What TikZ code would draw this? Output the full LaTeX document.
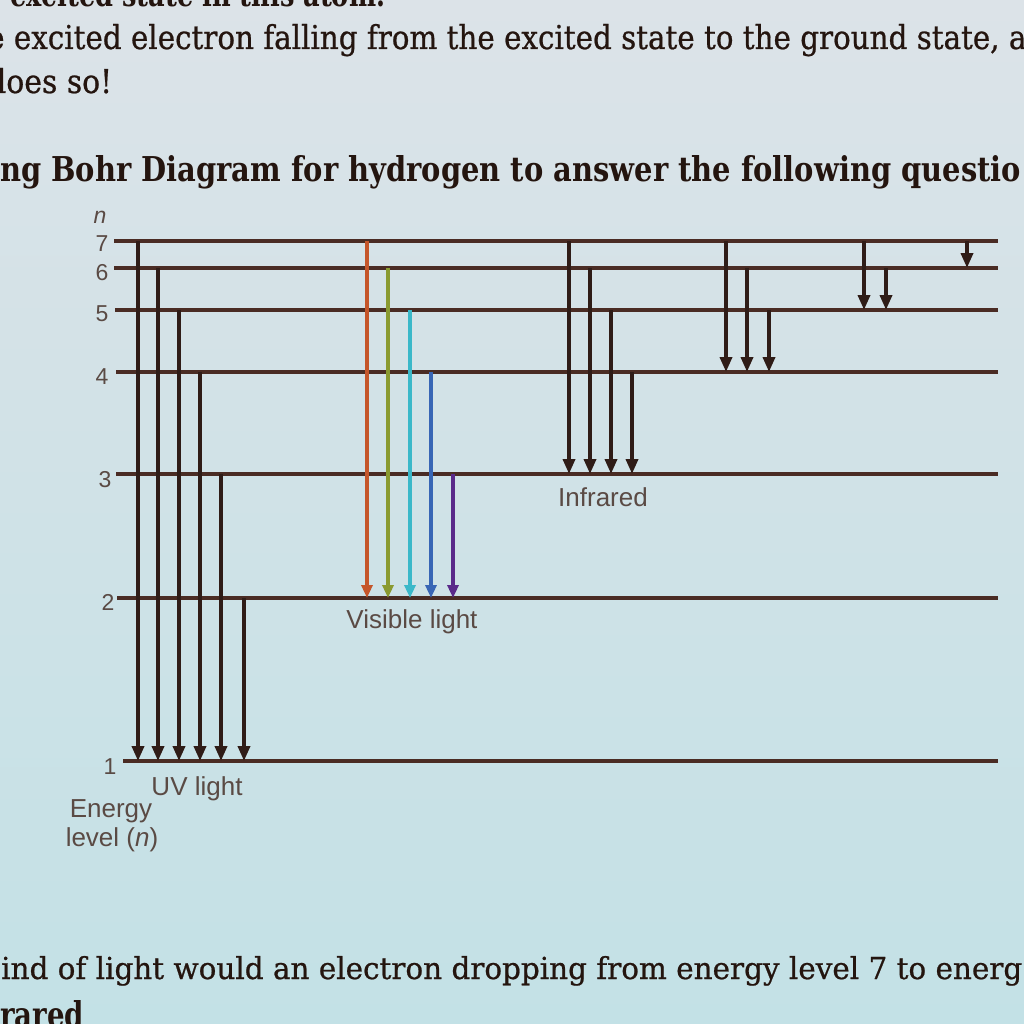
\documentclass[tikz,border=0pt]{standalone}
\usepackage{fontspec}
\usepackage{graphicx}
\setmainfont{DejaVu Serif}
\newfontfamily\medserif{DejaVu Serif}[FakeBold=0.7]
\newfontfamily\labelfont{Liberation Sans}
\usetikzlibrary{arrows.meta}
\definecolor{bgtop}{HTML}{DCE3E8}
\definecolor{bgmid}{HTML}{D1E5E9}
\definecolor{bgbot}{HTML}{C3E1E6}
\definecolor{txt}{HTML}{24150F}
\definecolor{levelc}{HTML}{4A2C24}
\definecolor{arrowc}{HTML}{2F1C17}
\definecolor{labc}{HTML}{5A4A44}
\definecolor{vred}{HTML}{C5562A}
\definecolor{vgreen}{HTML}{8A9A30}
\definecolor{vcyan}{HTML}{3AB8C9}
\definecolor{vblue}{HTML}{3866B5}
\definecolor{vpurple}{HTML}{5A2A8A}
\tikzset{
  level/.style={draw=levelc, line width=3.3pt},
  arr/.style={draw=arrowc, line width=3.6pt, -{Triangle[length=15pt,width=12pt]}},
  varr/.style={line width=3.2pt, -{Triangle[length=13pt,width=11pt]}},
  lab/.style={text=labc, font=\labelfont\fontsize{26}{28}\selectfont, inner sep=0pt},
  ticklab/.style={text=labc, font=\labelfont\fontsize{23}{25}\selectfont, inner sep=0pt},
  prose/.style={text=txt, anchor=base west, inner sep=0pt}
}
\begin{document}
\begin{tikzpicture}[x=1pt,y=-1pt]
\useasboundingbox (0,0) rectangle (1024,1024);
\clip (0,0) rectangle (1024,1024);
\shade[top color=bgtop, middle color=bgmid, bottom color=bgbot] (0,0) rectangle (1024,1024);

% surrounding text
\node[prose] (p0) at (10,7) {\resizebox{375pt}{25pt}{\bfseries excited state in this atom.}};
\node[prose] (p1) at (-13,49) {\resizebox{1039pt}{25pt}{\medserif e excited electron falling from the excited state to the ground state, a}};
\node[prose] (p2) at (-13,93) {\resizebox{125pt}{25pt}{\medserif does so!}};
\node[prose] (p3) at (0,182) {\resizebox{1021pt}{26pt}{\bfseries ng Bohr Diagram for hydrogen to answer the following questio}};
\node[prose] (p4) at (1,979) {\resizebox{1021pt}{23pt}{\medserif ind of light would an electron dropping from energy level 7 to energ}};
\node[prose] (p5) at (0,1027) {\resizebox{84pt}{27pt}{\bfseries rared}};

% energy levels
\foreach \n/\y/\s in {7/241/114,6/268/114,5/310/115,4/372/116,3/474/116,2/598/117,1/761/123} {
  \coordinate (L\n) at (\s,\y);
  \coordinate (R\n) at (998,\y);
  \draw[level] (L\n) -- (R\n);
}
\node[ticklab, font=\labelfont\itshape\fontsize{23}{25}\selectfont] (tn) at (100,217) {n};
\foreach \n/\x/\y in {7/102/244,6/102/273,5/102/314,4/102/377,3/105/480,2/108/602,1/110/767} {
  \node[ticklab] (t\n) at (\x,\y) {\n};
}

% UV (to level 1), infrared series
\foreach \x/\a/\b in {138/7/1,158/6/1,179/5/1,200/4/1,221/3/1,244/2/1,
                      569/7/3,590/6/3,611/5/3,632/4/3,
                      726/7/4,747/6/4,769/5/4,
                      864/7/5,886/6/5,
                      967/7/6} {
  \coordinate (x\x) at (\x,0);
  \draw[arr] (x\x |- L\a) -- (x\x |- L\b);
}

% visible (to level 2)
\foreach \x/\a/\c in {367/7/vred,388/6/vgreen,410/5/vcyan,431/4/vblue,453/3/vpurple} {
  \coordinate (x\x) at (\x,0);
  \draw[varr, draw=\c, fill=\c] (x\x |- L\a) -- (x\x |- L2);
}

% labels
\node[lab] (ir) at (603,497) {Infrared};
\node[lab] (vis) at (412,622) {Visible light};
\node[lab] (uv) at (197,789) {UV light};
\node[lab] (en) at (111,811) {Energy};
\node[lab] (lv) at (112,840) {level (\textit{n})};
\end{tikzpicture}
\end{document}
